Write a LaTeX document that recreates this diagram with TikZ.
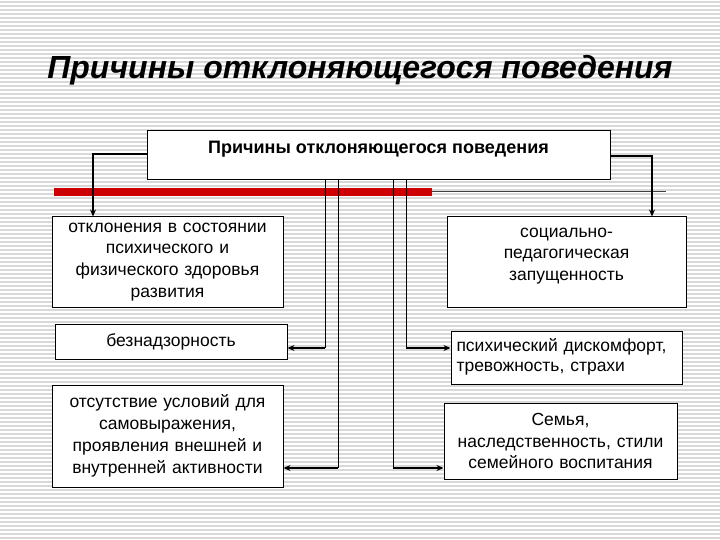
\documentclass[tikz,border=0pt]{standalone}
\usepackage{fontspec}
\setmainfont{Liberation Sans}
\usetikzlibrary{arrows.meta}
\definecolor{barred}{RGB}{204,0,0}
\definecolor{stripe}{RGB}{216,216,216}
\tikzset{
  box/.style={draw=black, line width=1pt, fill=white, inner sep=0pt, align=center,
    font=\fontsize{17.5}{21.8}\selectfont},
  conn/.style={draw=black, line width=1.3pt, -{Stealth[length=7pt,width=6pt]}},
  vline/.style={draw=black, line width=0.9pt},
}
\begin{document}
\begin{tikzpicture}[x=1pt,y=-1pt]
\useasboundingbox (0,0) rectangle (720,540);
\fill[white] (0,0) rectangle (720,540);
\foreach \k in {0,...,134} {\draw[stripe, line width=1.6pt] (0,2+4*\k) -- (720,2+4*\k);}
% title
\node[font=\fontsize{32}{38}\selectfont\bfseries\itshape, anchor=base] (title) at (360,79) {Причины отклоняющегося поведения};
% red bar
\fill[barred] (54,188) rectangle (432,196);
\coordinate (te) at (666,191);
\draw[black!75, line width=0.8pt] (432,191) -- (te);
% top box
\node[box, minimum width=463pt, minimum height=49pt] (top) at (378.5,155.5) {};
\node[font=\fontsize{18}{20}\selectfont\bfseries, anchor=base] (toptxt) at (378.5,153.5) {Причины отклоняющегося поведения};
% boxes
\node[box, minimum width=231pt, minimum height=90pt, text width=228pt] (b1) at (167.5,262) {отклонения в состоянии\\психического и\\физического здоровья\\развития};
\node[box, minimum width=232pt, minimum height=35pt, text width=228pt] (b2) at (171,341.5) {безнадзорность};
\node[box, minimum width=231pt, minimum height=102pt, text width=228pt] (b3) at (167.5,436) {отсутствие условий для\\самовыражения,\\проявления внешней и\\внутренней активности};
\node[box, minimum width=239pt, minimum height=90pt, text width=234pt] (b4) at (566.5,262) {социально-\\педагогическая\\запущенность\\[-6pt]\mbox{}};
\node[box, minimum width=231pt, minimum height=53pt, text width=220pt, align=left] (b5) at (566.5,357.5) {\mbox{}\\[-10pt]психический дискомфорт,\\[-1.5pt]тревожность, страхи};
\node[box, minimum width=233pt, minimum height=76pt, text width=230pt] (b6) at (560.5,441) {Семья,\\наследственность, стили\\семейного воспитания};
% connectors
\coordinate (l1) at (93,154);
\coordinate (r1) at (652,156);
\draw[conn] (top.west |- l1) -- (l1) -- (l1 |- b1.north);
\draw[conn] (top.east |- r1) -- (r1) -- (r1 |- b4.north);
\coordinate (v1) at (325,348);
\coordinate (v2) at (338,468);
\coordinate (v3) at (393,468);
\coordinate (v4) at (406,348);
\draw[vline] (top.south -| v1) -- (v1);
\draw[vline] (top.south -| v2) -- (v2);
\draw[vline] (top.south -| v3) -- (v3);
\draw[vline] (top.south -| v4) -- (v4);
\draw[conn] (v1) -- (v1 -| b2.east);
\draw[conn] (v2) -- (v2 -| b3.east);
\draw[conn] (v3) -- (v3 -| b6.west);
\draw[conn] (v4) -- (v4 -| b5.west);
\end{tikzpicture}
\end{document}
